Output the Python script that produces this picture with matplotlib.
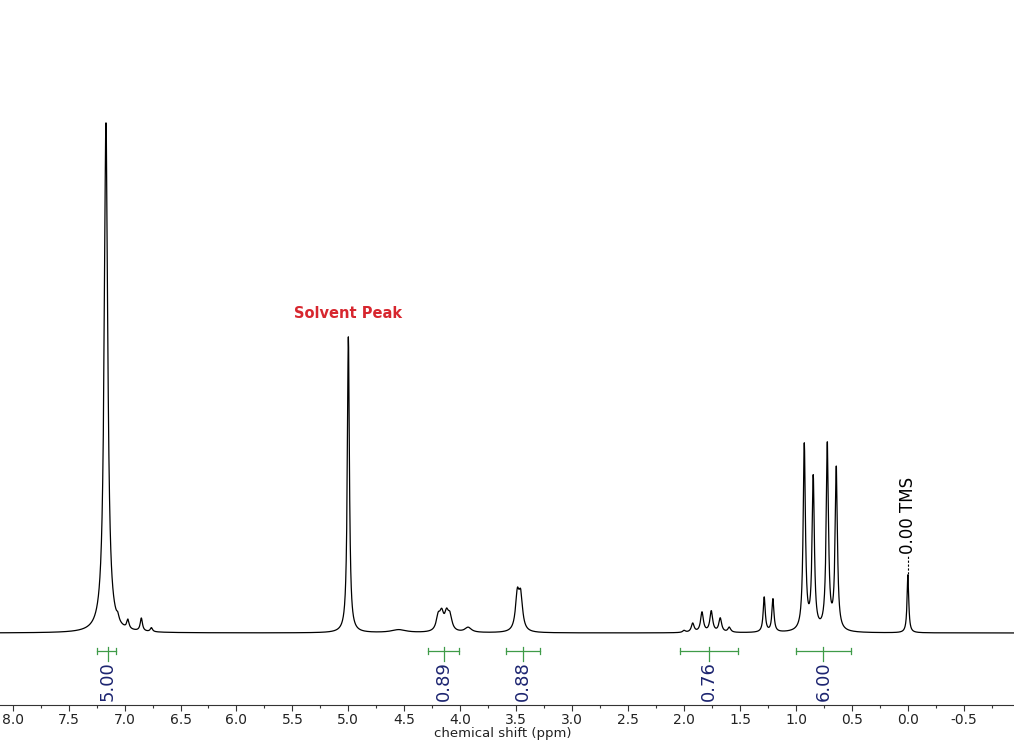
import numpy as np
import matplotlib
matplotlib.use("Agg")
import matplotlib.pyplot as plt

# peak table: shift (ppm), height (px above baseline), half width (ppm)
peak_ppm = [7.166, 7.06, 6.97, 6.85, 6.76,
            5.00, 4.55,
            4.197, 4.166, 4.122, 4.092, 3.93,
            3.49, 3.46,
            2.00, 1.923, 1.840, 1.757, 1.677, 1.596,
            1.284, 1.206,
            0.926, 0.846, 0.720, 0.640,
            0.00]
peak_height = [510, 5, 9, 13, 4,
               296, 3,
               14, 16, 16, 14, 5,
               35, 33,
               2, 9, 20, 21, 14, 5,
               35, 33,
               186, 152, 186, 162,
               58]
peak_hw = [0.019, 0.012, 0.012, 0.012, 0.012,
           0.011, 0.08,
           0.021, 0.021, 0.021, 0.021, 0.035,
           0.02, 0.02,
           0.015, 0.015, 0.015, 0.015, 0.015, 0.015,
           0.011, 0.011,
           0.012, 0.012, 0.012, 0.012,
           0.009]

# integrals: left edge, right edge, centre, value
int_left = [7.25, 4.29, 3.595, 2.04, 1.00]
int_right = [7.08, 4.01, 3.29, 1.52, 0.51]
int_centre = [7.15, 4.145, 3.44, 1.775, 0.755]
int_labels = ["5.00", "0.89", "0.88", "0.76", "6.00"]

x_lo, x_hi = -0.948, 8.113
ppm = np.linspace(x_lo, x_hi, 8000)
spec = np.zeros_like(ppm)
for c, h, w in zip(peak_ppm, peak_height, peak_hw):
    spec += h / (1 + ((ppm - c) / w) ** 2)

fig = plt.figure(figsize=(10.14, 7.43), dpi=100)
ax = fig.add_axes([0, 38 / 743, 1, 705 / 743])
ax.plot(ppm, spec, color="black", lw=0.9)
ax.set_xlim(x_hi, x_lo)
ax.set_ylim(-72, 633)

for s in ["top", "left", "right"]:
    ax.spines[s].set_visible(False)
ax.spines["bottom"].set_color("#333333")
ax.spines["bottom"].set_linewidth(0.8)
ax.set_yticks([])
ax.set_xticks(np.arange(-0.5, 8.01, 0.5))
ax.set_xticks(np.arange(-0.75, 8.01, 0.25), minor=True)
ax.set_xticklabels(["%.1f" % v for v in np.arange(-0.5, 8.01, 0.5)])
ax.tick_params(axis="x", which="major", length=4, width=0.8, colors="#333333",
               labelsize=10, pad=2, labelcolor="#222222")
ax.tick_params(axis="x", which="minor", length=2, width=0.8, colors="#333333")
fig.text(503 / 1014, 1 - 734 / 743, "chemical shift (ppm)", fontsize=9.5,
         color="#222222", ha="center", va="center")

green = "#3f9b48"
navy = "#1c2470"
for l, r, c, lab in zip(int_left, int_right, int_centre, int_labels):
    ax.plot([l, r], [-18, -18], color=green, lw=0.9)
    ax.plot([l, l], [-15, -21], color=green, lw=0.9)
    ax.plot([r, r], [-15, -21], color=green, lw=0.9)
    ax.plot([c, c], [-14, -28], color=green, lw=0.9)
    ax.text(c, -28, lab, rotation=90, ha="center", va="top", fontsize=13,
            color=navy)

# TMS reference label
ax.plot([0, 0], [59, 78], color="black", lw=0.8, ls=(0, (2, 1.5)))
ax.text(0, 79, "0.00 TMS", rotation=90, ha="center", va="bottom", fontsize=12,
        color="black")

ax.text(5.00, 320, "Solvent Peak", ha="center", va="center", fontsize=10.5,
        fontweight="bold", color="#d7262e")

fig.savefig("out.png", dpi=100, facecolor="white")
